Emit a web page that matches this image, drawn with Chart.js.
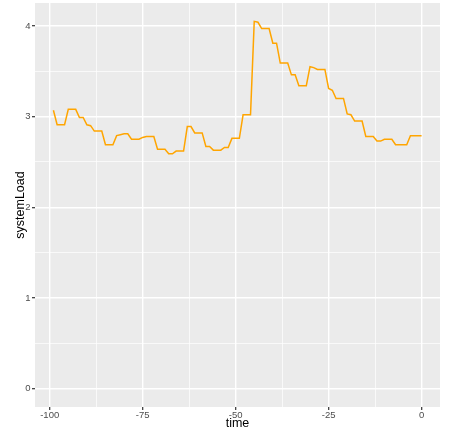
<!DOCTYPE html>
<html><head><meta charset="utf-8">
<script src="https://cdn.jsdelivr.net/npm/chart.js@4/dist/chart.umd.min.js"></script>
<style>html,body{margin:0;padding:0;background:#fff;}#wrap{width:474px;height:433px;position:relative;}</style>
</head><body><div id="wrap"><canvas id="c"></canvas></div>
<script>
const time = [-99,-98,-97,-96,-95,-94,-93,-92,-91,-90,-89,-88,-87,-86,-85,-84,-83,-82,-81,-80,
-79,-78,-77,-76,-75,-74,-73,-72,-71,-70,-69,-68,-67,-66,-65,-64,-63,-62,-61,-60,
-59,-58,-57,-56,-55,-54,-53,-52,-51,-50,-49,-48,-47,-46,-45,-44,-43,-42,-41,-40,
-39,-38,-37,-36,-35,-34,-33,-32,-31,-30,-29,-28,-27,-26,-25,-24,-23,-22,-21,-20,
-19,-18,-17,-16,-15,-14,-13,-12,-11,-10,-9,-8,-7,-6,-5,-4,-3,-2,-1,0];
const systemLoad = [3.07,2.91,2.91,2.91,3.08,3.08,3.08,2.99,2.99,2.91,2.90,2.84,2.84,2.84,2.69,2.69,2.69,2.79,2.80,2.81,
2.81,2.75,2.75,2.75,2.77,2.78,2.78,2.78,2.64,2.64,2.64,2.59,2.59,2.62,2.62,2.62,2.89,2.89,2.82,2.82,
2.82,2.67,2.67,2.63,2.63,2.63,2.66,2.66,2.76,2.76,2.76,3.02,3.02,3.02,4.05,4.04,3.97,3.97,3.97,3.81,
3.81,3.59,3.59,3.59,3.46,3.46,3.34,3.34,3.34,3.55,3.54,3.52,3.52,3.52,3.31,3.29,3.20,3.20,3.20,3.03,
3.02,2.95,2.95,2.95,2.78,2.78,2.78,2.73,2.73,2.75,2.75,2.75,2.69,2.69,2.69,2.69,2.79,2.79,2.79,2.79];
const xMajorTicks = [-100,-75,-50,-25,0];
const xMinorTicks = [-87.5,-62.5,-37.5,-12.5];
const yMajorTicks = [0,1,2,3,4];
const yMinorTicks = [0.5,1.5,2.5,3.5];
const xTitle = 'time';
const yTitle = 'systemLoad';

const FONT = "'Liberation Sans', Arial, Helvetica, sans-serif";
const isMinor = (list, v) => list.includes(v);

const panelBg = {
  id: 'panelBg',
  beforeDraw(chart) {
    const {ctx, chartArea: a} = chart;
    ctx.save();
    ctx.fillStyle = '#EBEBEB';
    ctx.fillRect(a.left, a.top, a.right - a.left, a.bottom - a.top);
    ctx.restore();
  }
};

function gridOpts(minorList) {
  return {
    display: true,
    drawOnChartArea: true,
    drawTicks: true,
    tickLength: 3,
    color: '#FFFFFF',
    lineWidth: c => (c.tick && isMinor(minorList, c.tick.value)) ? 0.7 : 1.4,
    tickColor: c => (c.tick && isMinor(minorList, c.tick.value)) ? 'rgba(0,0,0,0)' : '#333333',
    tickWidth: c => (c.tick && isMinor(minorList, c.tick.value)) ? 0 : 1.2
  };
}

function zeroPad(s) { s.paddingTop = 0; s.paddingBottom = 0; s.paddingLeft = 0; s.paddingRight = 0; }

new Chart(document.getElementById('c'), {
  type: 'line',
  data: {
    datasets: [{
      data: time.map((t, i) => ({x: t, y: systemLoad[i]})),
      borderColor: '#FFA500',
      borderWidth: 1.5,
      pointRadius: 0,
      tension: 0,
      fill: false
    }]
  },
  plugins: [panelBg],
  options: {
    responsive: true,
    maintainAspectRatio: false,
    animation: false,
    devicePixelRatio: 1,
    layout: {padding: {top: 3, right: 34, left: 0, bottom: 0}},
    plugins: {legend: {display: false}, tooltip: {enabled: false}},
    scales: {
      x: {
        type: 'linear',
        min: -103.95,
        max: 4.95,
        border: {display: false},
        grid: gridOpts(xMinorTicks),
        afterBuildTicks: s => { s.ticks = xMajorTicks.concat(xMinorTicks).sort((a,b)=>a-b).map(v => ({value: v})); },
        afterFit: s => { s.height = 26; zeroPad(s); },
        ticks: {
          autoSkip: false, maxRotation: 0, minRotation: 0, padding: 0,
          color: '#4D4D4D', font: {family: FONT, size: 9.5},
          callback: v => isMinor(xMinorTicks, v) ? '' : String(v)
        },
        title: {display: true, text: xTitle, color: '#000000', font: {family: FONT, size: 12.5}, padding: {top: 0, bottom: 1.5}}
      },
      y: {
        type: 'linear',
        min: -0.2025,
        max: 4.2525,
        border: {display: false},
        grid: gridOpts(yMinorTicks),
        afterBuildTicks: s => { s.ticks = yMajorTicks.concat(yMinorTicks).sort((a,b)=>a-b).map(v => ({value: v})); },
        afterFit: s => { s.width = 35; zeroPad(s); },
        ticks: {
          autoSkip: false, padding: 1.5,
          color: '#4D4D4D', font: {family: FONT, size: 9.5},
          callback: v => isMinor(yMinorTicks, v) ? '' : String(v)
        },
        title: {display: true, text: yTitle, color: '#000000', font: {family: FONT, size: 12.5}, padding: {top: 13.5, bottom: 0}}
      }
    }
  }
});
</script>
</body></html>
